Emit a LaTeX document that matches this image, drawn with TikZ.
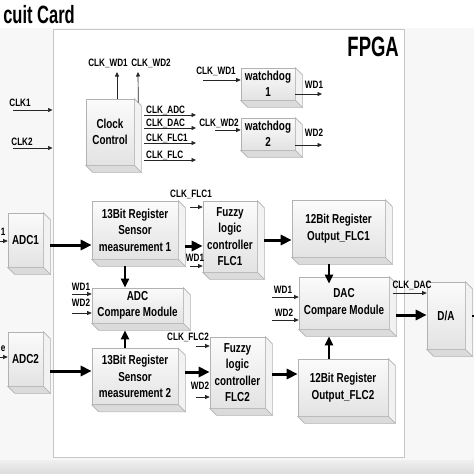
\documentclass[tikz,border=0pt]{standalone}
\usepackage{fontspec}
\setmainfont{Liberation Sans}
\newfontfamily\narrowf{Liberation Sans}[FakeStretch=0.76]
\newfontfamily\titlef{Liberation Sans}[FakeStretch=0.66]
\usetikzlibrary{arrows.meta,calc}
\newcommand\boxfont{\narrowf\bfseries\fontsize{13}{16.5}\selectfont}
\newcommand\lblfont{\narrowf\bfseries\fontsize{10.7}{12}\selectfont}
\newcommand\extrude[1]{%
  \filldraw[rface] (#1.north east) -- ($(#1.north east)+(7,7)$) -- ($(#1.south east)+(7,7)$) -- (#1.south east) -- cycle;
  \filldraw[bface] (#1.south west) -- ($(#1.south west)+(7,7)$) -- ($(#1.south east)+(7,7)$) -- (#1.south east) -- cycle;}
\begin{document}
\begin{tikzpicture}[x=1pt,y=-1pt,
  blk/.style={draw=gray!60, line width=0.6pt, top color=gray!3, bottom color=gray!22, inner sep=0pt, align=center, font=\boxfont, text=black},
  rface/.style={draw=gray!60, line width=0.6pt, fill=gray!10},
  bface/.style={draw=gray!60, line width=0.6pt, fill=gray!28},
  thin/.style={line width=0.7pt, draw=black!85, -{Triangle[length=4.5pt,width=4pt]}},
  thk/.style={line width=3pt, -{Triangle[length=11pt,width=10pt]}},
  thkv/.style={line width=2.5pt, -{Triangle[length=9pt,width=8pt]}},
  lbl/.style={font=\lblfont, inner sep=0pt, text=black}]
\useasboundingbox (0,0) rectangle (474,474);
% background
\fill[gray!6] (0,0) rectangle (474,474);
\fill[white] (0,0) rectangle (474,28);
\shade[top color=gray!12, bottom color=gray!28] (0,460) rectangle (474,474);
\node[draw=gray!45, fill=white, line width=1pt, minimum width=351pt, minimum height=428pt, inner sep=0pt] (fpga) at (228.5,243) {};
% titles
\node[font=\titlef\bfseries\fontsize{25}{27}\selectfont, anchor=base east, inner sep=0pt] (title) at (75,23) {cuit Card};
\node[font=\titlef\bfseries\fontsize{28}{30}\selectfont, anchor=base east, inner sep=0pt] (fpgat) at (399,56) {FPGA};
% blocks
\node[blk, minimum width=48pt, minimum height=66pt] (clk) at (110,132) {Clock\\Control};
\node[blk, minimum width=54pt, minimum height=32pt] (wdA) at (268,84) {watchdog\\1};
\node[blk, minimum width=54pt, minimum height=32pt] (wdB) at (268,134) {watchdog\\2};
\node[blk, minimum width=35pt, minimum height=54pt] (adcA) at (25.5,240) {ADC1};
\node[blk, minimum width=35pt, minimum height=54pt] (adcB) at (25.5,359) {ADC2};
\node[blk, minimum width=86pt, minimum height=58pt] (regA) at (135,230) {13Bit Register\\Sensor\\measurement 1};
\node[blk, minimum width=86pt, minimum height=56pt] (regB) at (135,376.5) {13Bit Register\\Sensor\\measurement 2};
\node[blk, minimum width=54pt, minimum height=71pt] (flcA) at (230,236.5) {Fuzzy\\logic\\controller\\FLC1};
\node[blk, minimum width=55pt, minimum height=71pt] (flcB) at (237.5,372.5) {Fuzzy\\logic\\controller\\FLC2};
\node[blk, minimum width=93pt, minimum height=57pt] (outA) at (338.5,228.5) {12Bit Register\\Output\_FLC1};
\node[blk, minimum width=90pt, minimum height=57pt] (outB) at (343,387.5) {12Bit Register\\Output\_FLC2};
\node[blk, minimum width=91pt, minimum height=35pt] (adcc) at (137.5,305.5) {ADC\\Compare Module};
\node[blk, minimum width=90pt, minimum height=52pt] (dacc) at (344,303) {DAC\\Compare Module};
\node[blk, minimum width=38pt, minimum height=67pt] (da) at (446,315.5) {D/A};
\foreach \n in {clk,wdA,wdB,adcA,adcB,regA,regB,flcA,flcB,outA,outB,adcc,dacc,da} {\extrude{\n}}
% clock inputs
\node[lbl] (c1l) at (20,103) {CLK1};
\node[lbl] (c2l) at (22,142) {CLK2};
\coordinate (c1s) at (13,110);
\coordinate (c2s) at (13,148);
\draw[thin] (c1s) -- (c1s -| fpga.west);
\draw[thin] (c2s) -- (c2s -| fpga.west);
% clock control upward outputs
\node[lbl] (cwd1) at (108,63) {CLK\_WD1};
\node[lbl] (cwd2) at (151,63) {CLK\_WD2};
\coordinate (cwd1e) at (117,72);
\coordinate (cwd2e) at (138,72);
\draw[thin] (cwd1e |- clk.north) -- (cwd1e);
\draw[thin] ($(clk.north east)+(4,4)$) -- (cwd2e);
% clock control right outputs
\coordinate (clkr) at ($(clk.east)+(10,0)$);
\coordinate (ce1) at (196,115);
\coordinate (ce2) at (196,128);
\coordinate (ce3) at (196,143);
\coordinate (ce4) at (196,160);
\draw[thin] (clkr |- ce1) -- (ce1);
\draw[thin] (clkr |- ce2) -- (ce2);
\draw[thin] (clkr |- ce3) -- (ce3);
\draw[thin] (clkr |- ce4) -- (ce4);
\node[lbl, anchor=base west] (cl1) at (146,113) {CLK\_ADC};
\node[lbl, anchor=base west] (cl2) at (146,126) {CLK\_DAC};
\node[lbl, anchor=base west] (cl3) at (146,141) {CLK\_FLC1};
\node[lbl, anchor=base west] (cl4) at (146,158) {CLK\_FLC};
% watchdog inputs / outputs
\node[lbl] (wdl1) at (216,71) {CLK\_WD1};
\node[lbl] (wdl2) at (219,123) {CLK\_WD2};
\coordinate (wds1) at (203,80);
\coordinate (wds2) at (215,130);
\draw[thin] (wds1) -- (wds1 -| wdA.west);
\draw[thin] (wds2) -- (wds2 -| wdB.west);
\node[lbl] (wo1) at (314,85) {WD1};
\node[lbl] (wo2) at (314,133) {WD2};
\coordinate (woe1) at (322,94);
\coordinate (woe2) at (322,145);
\draw[thin] (woe1 -| wdA.east) -- (woe1);
\draw[thin] (woe2 -| wdB.east) -- (woe2);
% FLC inputs
\node[lbl] (cf1) at (191,194) {CLK\_FLC1};
\node[lbl] (wf1) at (195,258) {WD1};
\coordinate (cf1s) at (190,207);
\coordinate (wf1s) at (190,266);
\draw[thin] (cf1s) -- (cf1s -| flcA.west);
\draw[thin] (wf1s) -- (wf1s -| flcA.west);
\node[lbl] (cf2) at (188,337) {CLK\_FLC2};
\node[lbl] (wf2) at (200,386) {WD2};
\coordinate (cf2s) at (196,346);
\coordinate (wf2s) at (196,397);
\draw[thin] (cf2s) -- (cf2s -| flcB.west);
\draw[thin] (wf2s) -- (wf2s -| flcB.west);
% ADC compare inputs
\node[lbl] (wa1) at (81,287) {WD1};
\node[lbl] (wa2) at (81,303) {WD2};
\coordinate (wa1s) at (72,294);
\coordinate (wa2s) at (72,313);
\draw[thin] (wa1s) -- (wa1s -| adcc.west);
\draw[thin] (wa2s) -- (wa2s -| adcc.west);
% DAC compare inputs
\node[lbl] (wd1l) at (283,290) {WD1};
\node[lbl] (wd2l) at (284,313) {WD2};
\coordinate (wd1s) at (272,297);
\coordinate (wd2s) at (272,320);
\draw[thin] (wd1s) -- (wd1s -| dacc.west);
\draw[thin] (wd2s) -- (wd2s -| dacc.west);
% D/A clock
\node[lbl] (cdac) at (412,285) {CLK\_DAC};
\coordinate (cdacs) at (393,293);
\draw[thin] (cdacs) -- (cdacs -| da.west);
% ADC inputs
\node[lbl, anchor=east] (in1) at (5.5,232) {1};
\node[lbl, anchor=east] (in2) at (5.5,349) {e};
\coordinate (in1s) at (0,241);
\coordinate (in2s) at (0,357);
\draw[thin] (in1s) -- (in1s -| adcA.west);
\draw[thin] (in2s) -- (in2s -| adcB.west);
% D/A output
\coordinate (daout) at (474,316);
\draw[line width=1.2pt] ($(da.east)+(7,0.5)$) -- (daout);
% thick data arrows
\draw[thk] ($(adcA.east)+(7,5)$) -- ($(regA.west)+(0,15)$);
\draw[thk] ($(regA.east)+(7,16)$) -- ($(flcA.west)+(0,9.5)$);
\draw[thk] ($(flcA.east)+(7,3.5)$) -- ($(outA.west)+(0,11.5)$);
\draw[thk] ($(adcB.east)+(7,12)$) -- ($(regB.west)+(0,-5.5)$);
\draw[thk] ($(regB.east)+(7,-4.5)$) -- ($(flcB.west)+(0,-0.5)$);
\draw[thk] ($(flcB.east)+(7,1.5)$) -- ($(outB.west)+(0,-13.5)$);
\draw[thk] ($(dacc.east)+(7,12)$) -- ($(da.west)+(0,-0.5)$);
\draw[thkv] ($(regA.south)+(-10,7)$) -- ($(adcc.north)+(-12.5,0)$);
\draw[thkv] ($(regB.north)+(-10,0)$) -- ($(adcc.south)+(-12.5,7)$);
\draw[thkv] ($(outA.south)+(-9.5,7)$) -- ($(dacc.north)+(-15,7)$);
\draw[thkv] ($(outB.north)+(-14,0)$) -- ($(dacc.south)+(-15,7)$);
\end{tikzpicture}
\end{document}
